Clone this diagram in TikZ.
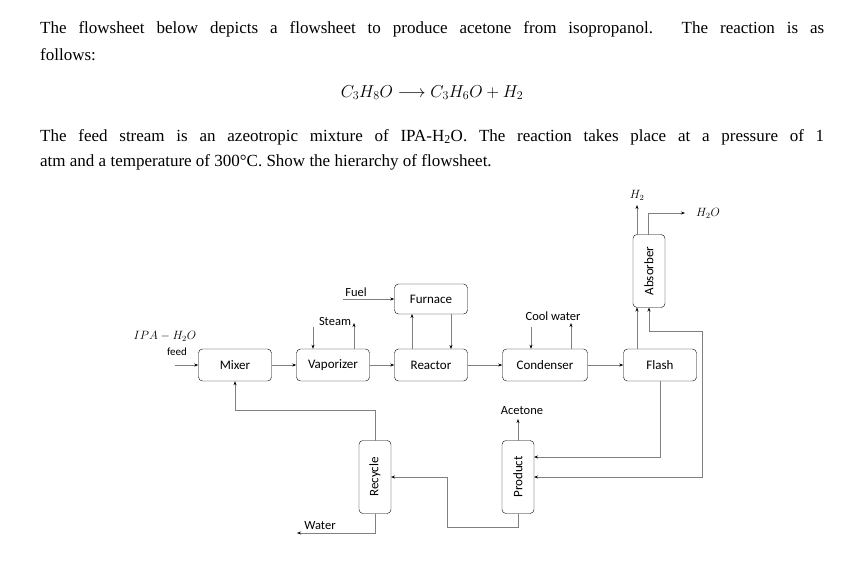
\documentclass[tikz,border=0pt]{standalone}
\usepackage{fontspec}
\setmainfont{Liberation Serif}
\newfontfamily\carl{Carlito}
\usetikzlibrary{arrows.meta}
\begin{document}
\begin{tikzpicture}[x=1pt,y=-1pt,
 box/.style={draw=black,rounded corners=4pt,minimum width=73pt,minimum height=32pt,font=\carl\fontsize{13}{13}\selectfont,inner sep=0pt},
 vbox/.style={box,rotate=90},
 con/.style={draw=gray,line width=0.8pt,-{Stealth[length=4pt,width=3pt,black]}},
 lab/.style={font=\carl\fontsize{12.5}{13}\selectfont,inner sep=1pt},
 txt/.style={anchor=base west,inner sep=0pt,font=\fontsize{17}{20}\selectfont}]
\useasboundingbox (0,0) rectangle (864,568);
\node[txt] (t1) at (40,33) {\makebox[784pt][s]{The flowsheet below depicts a flowsheet to produce acetone from isopropanol. The reaction is as}};
\node[txt] (t2) at (40,60) {follows:};
\node[anchor=base,inner sep=0pt,font=\fontsize{17}{20}\selectfont] (eq) at (432,97) {$C_3H_8O \longrightarrow C_3H_6O + H_2$};
\node[txt] (t3) at (40,141) {\makebox[784pt][s]{The feed stream is an azeotropic mixture of IPA-H\textsubscript{2}O. The reaction takes place at a pressure of 1}};
\node[txt] (t4) at (40,166) {atm and a temperature of 300°C. Show the hierarchy of flowsheet.};

\node[box] (mix) at (235,365) {Mixer};
\node[box] (vap) at (333,365) {Vaporizer};
\node[box] (rea) at (431,365) {Reactor};
\node[box,minimum height=30pt] (fur) at (431,299) {Furnace};
\node[box,minimum width=85pt] (con) at (545,365) {Condenser};
\node[box] (fla) at (660,365) {Flash};
\node[vbox] (abs) at (649,271) {Absorber};
\node[vbox] (pro) at (518,477) {Product};
\node[vbox] (rec) at (375,477) {Recycle};

\node[lab,font=\fontsize{12}{13}\selectfont] (ipa) at (165,336) {$IPA-H_2O$};
\node[lab,font=\carl\fontsize{11}{12}\selectfont] (feedl) at (177,352) {feed};
\coordinate (fin) at (175,365);
\draw[con] (fin) -- (mix);
\draw[con] (mix) -- (vap);
\draw[con] (vap) -- (rea);
\draw[con] (rea) -- (con);
\draw[con] (con) -- (fla);

\node[lab] (steam) at (335,321) {Steam};
\coordinate (sin) at (313,327);
\coordinate (sout) at (354,323);
\draw[con] (sin) -- (sin|-vap.north);
\draw[con] (sout|-vap.north) -- (sout);

\node[lab] (fuel) at (356,292) {Fuel};
\coordinate (fuin) at (343,299);
\draw[con] (fuin) -- (fur.west);
\draw[con] (412,349) -- (412,314);
\draw[con] (451,314) -- (451,349);

\node[lab] (cw) at (553,316) {Cool water};
\coordinate (cin) at (531,327);
\coordinate (cout) at (571,323);
\draw[con] (cin) -- (cin|-con.north);
\draw[con] (cout|-con.north) -- (cout);

\draw[con] (637,349) -- (637,307.5);
\draw[con,{Stealth[length=4pt,width=3pt,black]}-{Stealth[length=4pt,width=3pt,black]}] (534,477) -- (702,477) -- (702,331) -- (649,331) -- (649,307.5);
\draw[con] (fla.south) -- (660,457) -- (534,457);

\node[lab] (h2) at (637,195) {\fontsize{12}{13}\selectfont$H_2$};
\node[lab] (h2o) at (708,213) {\fontsize{12}{13}\selectfont$H_2O$};
\draw[con] (637,234.5) -- (637,205);
\draw[con] (648,234.5) -- (648,213) -- (685,213);

\node[lab] (ace) at (522,411) {Acetone};
\draw[con] (518,440.5) -- (518,419);
\draw[con] (518,513.5) -- (518,527) -- (447,527) -- (447,477) -- (391,477);
\draw[con] (375,440.5) -- (375,410) -- (235,410) -- (mix.south);
\node[lab] (wat) at (320,526) {Water};
\coordinate (wout) at (297,533);
\draw[con] (375,513.5) -- (375,533) -- (wout);
\end{tikzpicture}
\end{document}
